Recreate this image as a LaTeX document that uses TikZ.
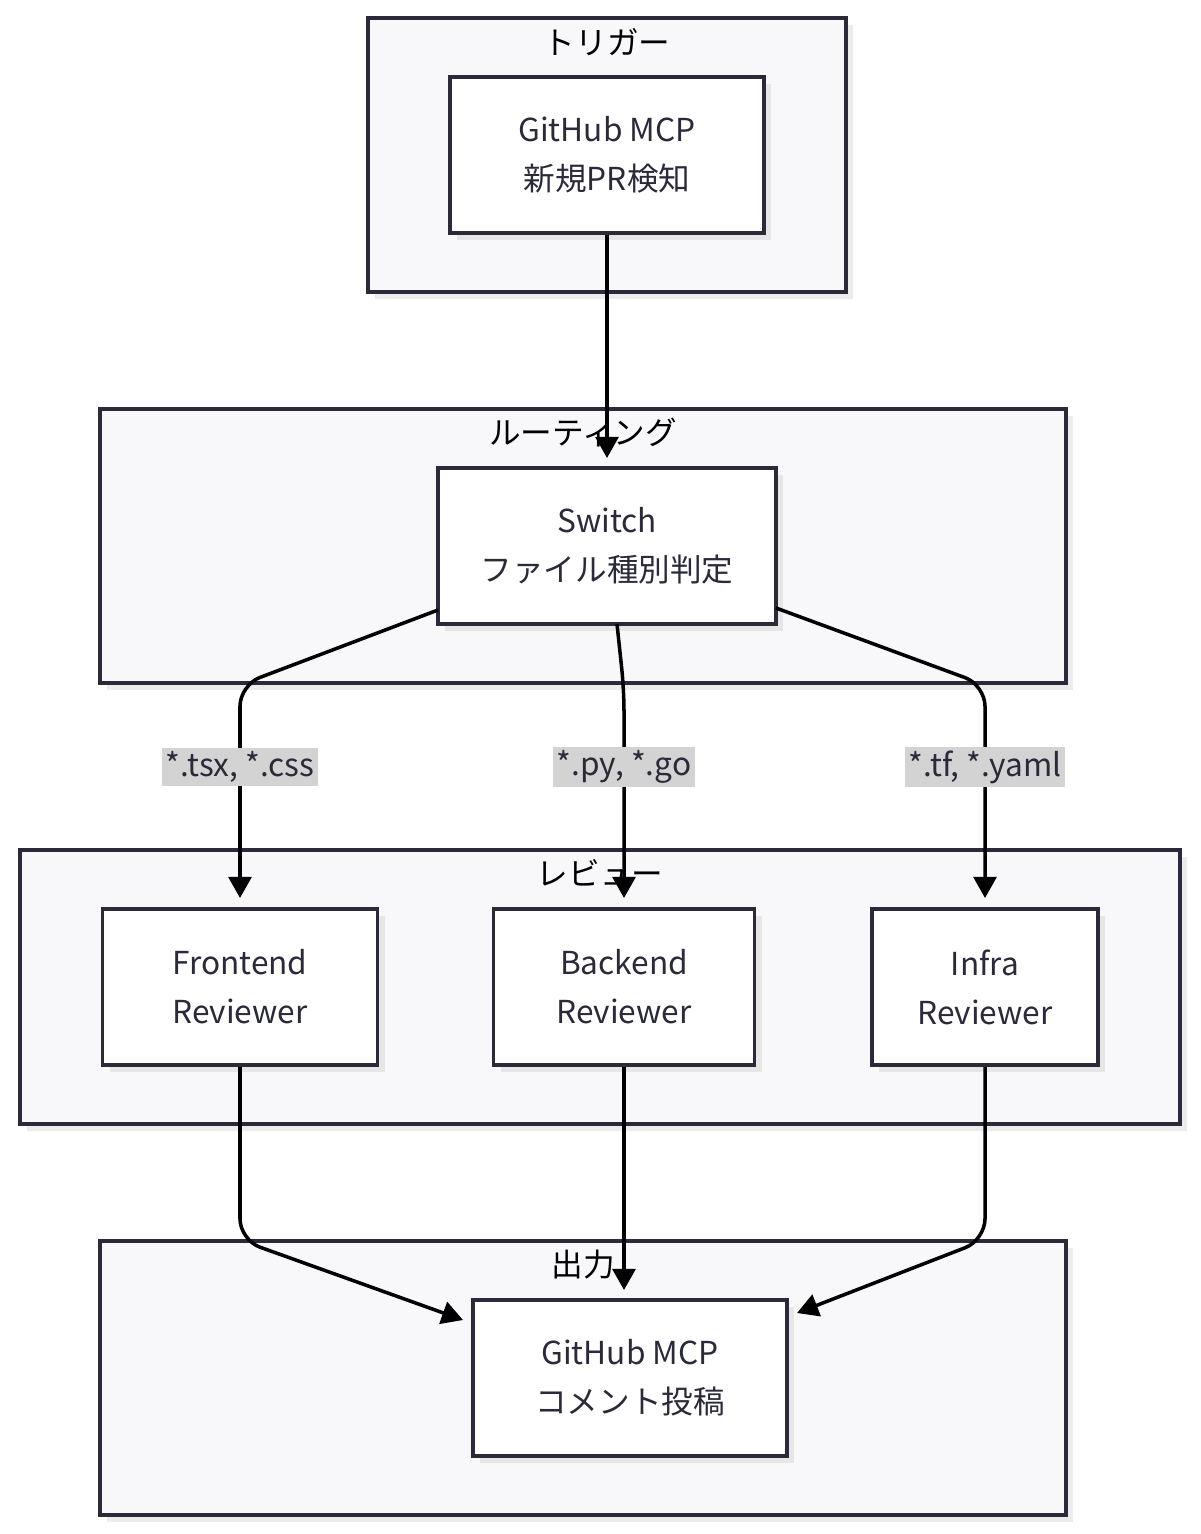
\documentclass[tikz,border=0pt]{standalone}
\usepackage{fontspec}
\setmainfont{Noto Sans CJK JP}
\usetikzlibrary{positioning,arrows.meta,shadows,calc}
\definecolor{frame}{RGB}{42,42,58}
\definecolor{clusterbg}{RGB}{248,248,250}
\definecolor{labelbg}{RGB}{211,211,211}

\begin{document}
\begin{tikzpicture}[x=0.02cm, y=-0.02cm,
    % Node styles
    cluster/.style={rectangle, draw=frame, line width=2.1pt, fill=clusterbg,
                    drop shadow={shadow xshift=4pt, shadow yshift=-4pt, opacity=0.15}},
    task/.style={rectangle, draw=frame, line width=2.1pt, fill=white, align=center,
                 font=\fontsize{18}{28}\selectfont, text=frame,
                 drop shadow={shadow xshift=4pt, shadow yshift=-4pt, opacity=0.15}},
    title/.style={font=\fontsize{18}{20}\selectfont, text=black},
    tag/.style={fill=labelbg, font=\fontsize{18}{20}\selectfont, text=frame, inner sep=2pt},
    % Arrow styles
    flow/.style={-{Triangle[length=12pt, width=13pt]}, line width=2pt, rounded corners=12pt}
]
\useasboundingbox (0,0) rectangle (1200,1534);

% Clusters
\draw[cluster] (368,18) rectangle (846,292);
\node[title] (trig_t) at (607,42) {トリガー};
\draw[cluster] (100,409) rectangle (1066,683);
\node[title] (route_t) at (583,432) {ルーティング};
\draw[cluster] (20,850) rectangle (1180,1124);
\node[title] (rev_t) at (600,873) {レビュー};
\draw[cluster] (100,1241) rectangle (1066,1515);
\node[title] (out_t) at (583,1265) {出力};

% Tasks
\node[task, minimum width=6.28cm, minimum height=3.12cm] (pr_in) at (607,155) {GitHub MCP\\新規PR検知};
\node[task, minimum width=6.76cm, minimum height=3.12cm] (switch) at (607,546) {Switch\\ファイル種別判定};
\node[task, minimum width=5.5cm, minimum height=3.12cm] (front) at (240,987) {Frontend\\Reviewer};
\node[task, minimum width=5.22cm, minimum height=3.12cm] (back) at (624,987) {Backend\\Reviewer};
\node[task, minimum width=4.52cm, minimum height=3.12cm] (infra) at (985,987) {Infra\\Reviewer};
\node[task, minimum width=6.28cm, minimum height=3.12cm] (comment) at (630,1378) {GitHub MCP\\コメント投稿};

% Arrow ends
\coordinate (sw_in) at (607,458);
\coordinate (fr_in) at (240,898);
\coordinate (bk_in) at (624,898);
\coordinate (in_in) at (985,898);
\coordinate (cm_fr) at (463,1320);
\coordinate (cm_bk) at (624,1290);
\coordinate (cm_in) at (797,1313);

% Flows
\draw[flow] (pr_in.south) -- (sw_in);
\draw[flow] (438,610) -- (240,685) -- (fr_in);
\draw[flow] (617,624) -- (624,690) -- (bk_in);
\draw[flow] (776,608) -- (985,685) -- (in_in);
\draw[flow] (front.south) -- (240,1240) -- (cm_fr);
\draw[flow] (back.south) -- (cm_bk);
\draw[flow] (infra.south) -- (985,1240) -- (cm_in);

% Edge labels
\node[tag] (l_front) at (240,767) {*.tsx, *.css};
\node[tag] (l_back) at (624,767) {*.py, *.go};
\node[tag] (l_infra) at (985,767) {*.tf, *.yaml};

\end{tikzpicture}
\end{document}
